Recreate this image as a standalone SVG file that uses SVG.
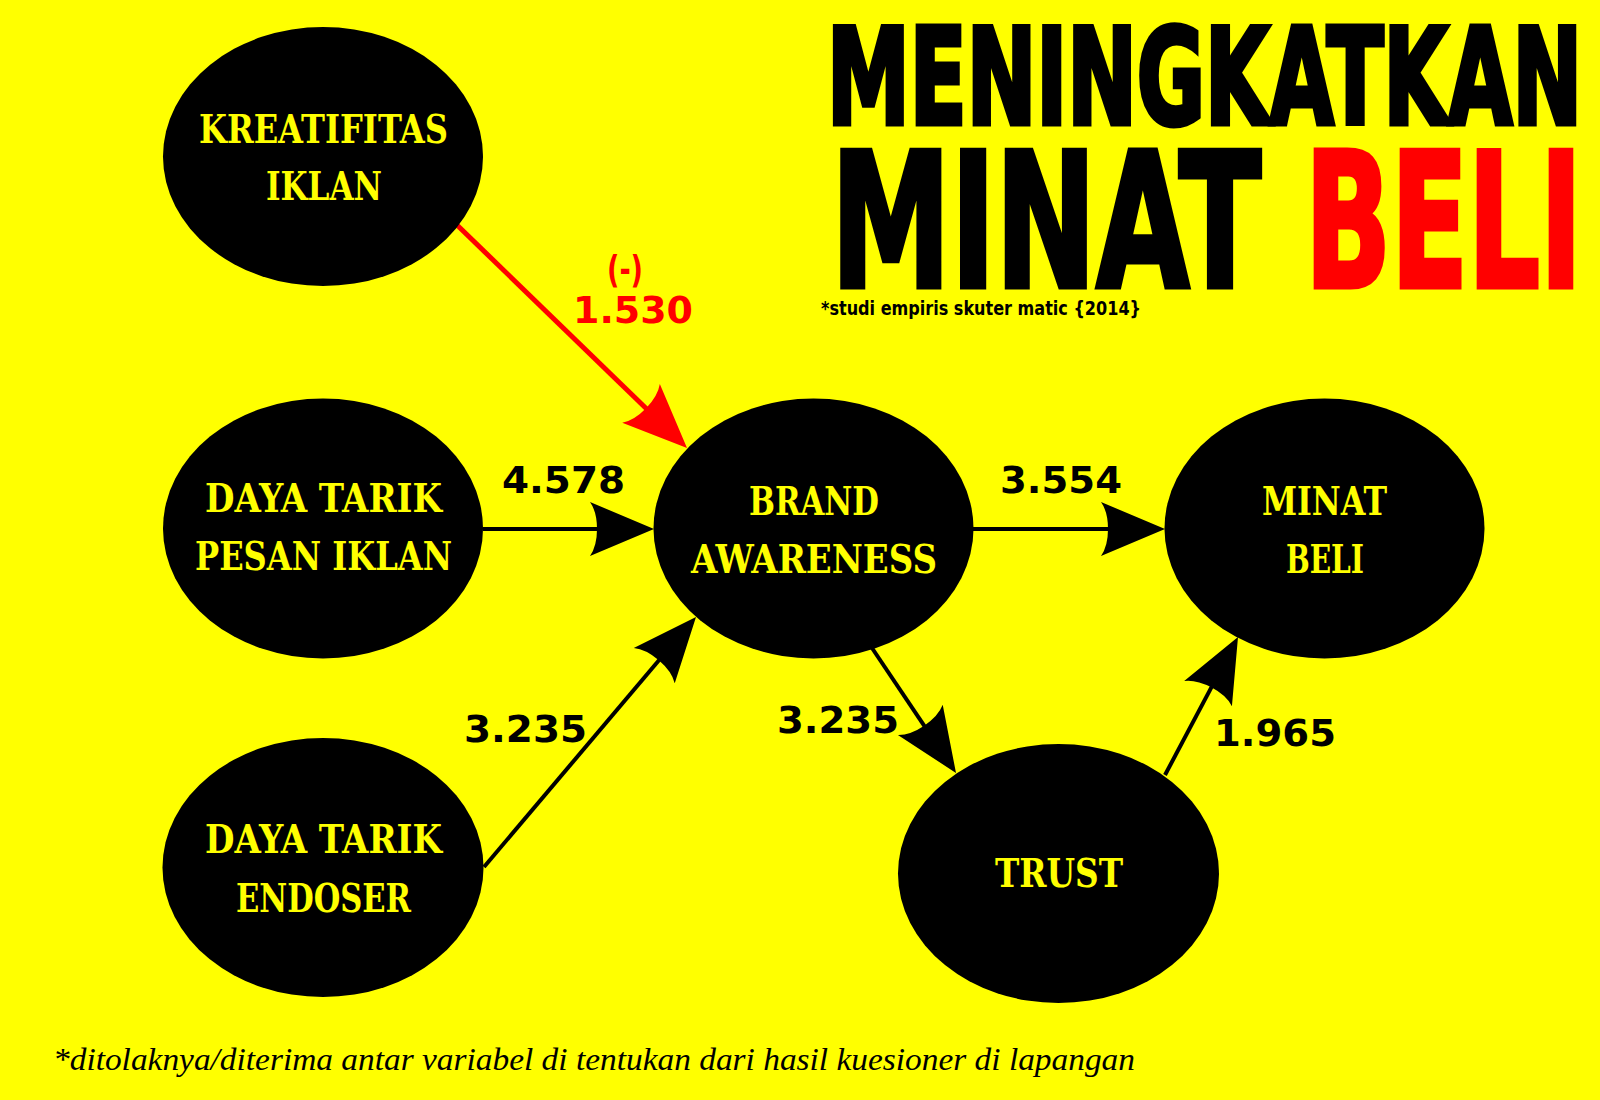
<svg xmlns="http://www.w3.org/2000/svg" xmlns:xlink="http://www.w3.org/1999/xlink" width="1600" height="1100" viewBox="0 0 1600 1100">
<style>
.node ellipse{fill:#000}
.nt{font-family:"DejaVu Serif Condensed","DejaVu Serif","Liberation Serif",serif;font-weight:bold;font-size:40px;fill:#ffff00;text-anchor:middle}
.num{font-family:"DejaVu Sans","Liberation Sans",sans-serif;font-weight:bold;font-size:38px;fill:#000}
.red{fill:#ff0000}
.edge{stroke:#000;stroke-width:4;fill:none}
.title{font-family:"Liberation Sans Narrow","DejaVu Sans Condensed","Liberation Sans",sans-serif;font-weight:bold;stroke-width:5;stroke-linejoin:miter}
</style>
<defs>
<path id="ah" d="M0,0 L-64,-27 Q-57,-17 -57,0 Q-57,17 -64,27 Z"/>
</defs>
<rect x="0" y="0" width="1600" height="1100" fill="#ffff00"/>

<g id="title">
<text class="title" x="827" y="124" font-size="133" textLength="755" lengthAdjust="spacingAndGlyphs" fill="#000" stroke="#000">MENINGKATKAN</text>
<text class="title" x="831" y="287" font-size="188" textLength="430" lengthAdjust="spacingAndGlyphs" fill="#000" stroke="#000">MINAT</text>
<text class="title" x="1305" y="287" font-size="188" textLength="277" lengthAdjust="spacingAndGlyphs" fill="#ff0000" stroke="#ff0000">BELI</text>
<text x="821" y="315" font-family="DejaVu Sans Condensed, Liberation Sans, sans-serif" font-weight="bold" font-size="20" textLength="320" lengthAdjust="spacingAndGlyphs" fill="#000">*studi empiris skuter matic {2014}</text>
</g>

<g id="connectors">
<line class="edge" x1="483" y1="529" x2="600" y2="529"/>
<use xlink:href="#ah" href="#ah" transform="translate(654,529)" fill="#000"/>
<line class="edge" x1="973" y1="529" x2="1110" y2="529"/>
<use xlink:href="#ah" href="#ah" transform="translate(1165,529)" fill="#000"/>
<line x1="457" y1="225" x2="647.5" y2="409.7" stroke="#ff0000" stroke-width="5"/>
<use xlink:href="#ah" href="#ah" transform="translate(687,448) rotate(44.1)" fill="#ff0000"/>
<line class="edge" x1="484" y1="867" x2="660" y2="659"/>
<use xlink:href="#ah" href="#ah" transform="translate(696,617) rotate(-49.3)" fill="#000"/>
<line class="edge" x1="872" y1="648" x2="925.3" y2="727.4"/>
<use xlink:href="#ah" href="#ah" transform="translate(956,773) rotate(56.1)" fill="#000"/>
<line class="edge" x1="1165" y1="775" x2="1212.3" y2="685.6"/>
<use xlink:href="#ah" href="#ah" transform="translate(1238,637) rotate(-62.1)" fill="#000"/>
</g>

<g id="labels">
<text class="num red" x="607" y="282" font-size="40" textLength="36" lengthAdjust="spacingAndGlyphs">(-)</text>
<text class="num red" x="573" y="323" textLength="120" lengthAdjust="spacingAndGlyphs">1.530</text>
<text class="num" x="502" y="493" textLength="123" lengthAdjust="spacingAndGlyphs">4.578</text>
<text class="num" x="1000" y="493" textLength="122" lengthAdjust="spacingAndGlyphs">3.554</text>
<text class="num" x="464" y="742" textLength="123" lengthAdjust="spacingAndGlyphs">3.235</text>
<text class="num" x="777" y="733" textLength="122" lengthAdjust="spacingAndGlyphs">3.235</text>
<text class="num" x="1214" y="746" textLength="122" lengthAdjust="spacingAndGlyphs">1.965</text>
</g>

<g id="node-kreatifitas" class="node">
<ellipse cx="323" cy="156.5" rx="160" ry="129.5"/>
<text class="nt" x="323.5" y="143" textLength="249" lengthAdjust="spacingAndGlyphs">KREATIFITAS</text>
<text class="nt" x="324" y="200" textLength="116" lengthAdjust="spacingAndGlyphs">IKLAN</text>
</g>
<g id="node-pesan" class="node">
<ellipse cx="323" cy="528.5" rx="160" ry="130"/>
<text class="nt" x="323.5" y="512" textLength="237" lengthAdjust="spacingAndGlyphs">DAYA TARIK</text>
<text class="nt" x="323.5" y="570" textLength="257" lengthAdjust="spacingAndGlyphs">PESAN IKLAN</text>
</g>
<g id="node-endoser" class="node">
<ellipse cx="323" cy="867.5" rx="160.5" ry="129.5"/>
<text class="nt" x="323.5" y="853" textLength="237" lengthAdjust="spacingAndGlyphs">DAYA TARIK</text>
<text class="nt" x="323.5" y="912" textLength="175" lengthAdjust="spacingAndGlyphs">ENDOSER</text>
</g>
<g id="node-brand" class="node">
<ellipse cx="813.5" cy="528.5" rx="160" ry="130"/>
<text class="nt" x="814" y="515" textLength="130" lengthAdjust="spacingAndGlyphs">BRAND</text>
<text class="nt" x="814" y="573" textLength="246" lengthAdjust="spacingAndGlyphs">AWARENESS</text>
</g>
<g id="node-minat" class="node">
<ellipse cx="1324.5" cy="528.5" rx="160" ry="130"/>
<text class="nt" x="1324.5" y="515" textLength="125" lengthAdjust="spacingAndGlyphs">MINAT</text>
<text class="nt" x="1325" y="573" textLength="78" lengthAdjust="spacingAndGlyphs">BELI</text>
</g>
<g id="node-trust" class="node">
<ellipse cx="1058.5" cy="873.5" rx="160.5" ry="129.5"/>
<text class="nt" x="1059" y="887" textLength="128" lengthAdjust="spacingAndGlyphs">TRUST</text>
</g>

<text id="footnote" x="53" y="1070" font-family="Liberation Serif, DejaVu Serif, serif" font-style="italic" font-size="32" textLength="1082" lengthAdjust="spacingAndGlyphs" fill="#000">*ditolaknya/diterima antar variabel di tentukan dari hasil kuesioner di lapangan</text>
</svg>
